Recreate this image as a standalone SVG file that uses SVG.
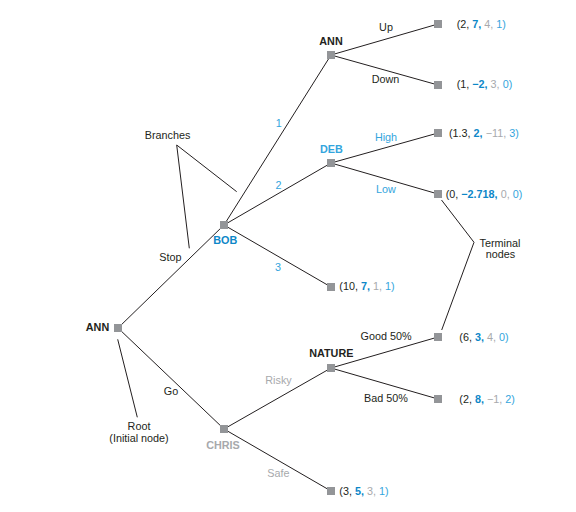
<svg xmlns="http://www.w3.org/2000/svg" width="576" height="512" viewBox="0 0 576 512">
<style>
text{font-family:"Liberation Sans",Arial,sans-serif;font-size:10.8px;fill:#231f20}
.c{text-anchor:middle}
.b{font-weight:bold}
.blue{fill:#0d87c8}
.lb{fill:#33a5dd}
.gr{fill:#a7a9ac}
.edge{stroke:#231f20;stroke-width:1;fill:none}
.node rect{fill:#939598}
</style>
<defs>
<rect id="sq" x="-4" y="-4" width="8" height="8"/>
</defs>
<rect width="576" height="512" fill="#fff"/>
<g id="connectors">
<line class="edge" x1="118" y1="328" x2="224" y2="225"/>
<line class="edge" x1="118" y1="328" x2="224" y2="429"/>
<line class="edge" x1="224" y1="225" x2="331" y2="55"/>
<line class="edge" x1="224" y1="225" x2="331" y2="163"/>
<line class="edge" x1="224" y1="225" x2="331" y2="287"/>
<line class="edge" x1="331" y1="55" x2="438" y2="24"/>
<line class="edge" x1="331" y1="55" x2="438" y2="85"/>
<line class="edge" x1="331" y1="163" x2="438" y2="133"/>
<line class="edge" x1="331" y1="163" x2="438" y2="194"/>
<line class="edge" x1="224" y1="429" x2="331" y2="368"/>
<line class="edge" x1="224" y1="429" x2="331" y2="491"/>
<line class="edge" x1="331" y1="368" x2="438" y2="337"/>
<line class="edge" x1="331" y1="368" x2="438" y2="399"/>
<polyline class="edge" points="189.3,248.3 176.7,145 236.7,191.7"/>
<line class="edge" x1="117.7" y1="339.3" x2="137.3" y2="417.3"/>
<polyline class="edge" points="441.5,200 474,242.3 441.7,330"/>
</g>
<g id="ann-root" class="node"><use href="#sq" x="118" y="328" fill="#939598"/><text class="c b" x="97.5" y="331">ANN</text></g>
<g id="bob" class="node"><use href="#sq" x="224" y="225" fill="#939598"/><text class="c b blue" x="225.3" y="244.3">BOB</text></g>
<g id="chris" class="node"><use href="#sq" x="224" y="429" fill="#939598"/><text class="c b gr" x="223" y="449.3">CHRIS</text></g>
<g id="ann-top" class="node"><use href="#sq" x="331" y="55" fill="#939598"/><text class="c b" x="331" y="45">ANN</text></g>
<g id="deb" class="node"><use href="#sq" x="331" y="163" fill="#939598"/><text class="c b lb" x="331.3" y="153">DEB</text></g>
<g id="nature" class="node"><use href="#sq" x="331" y="368" fill="#939598"/><text class="c b" x="331.3" y="356.7">NATURE</text></g>
<g id="t1" class="node"><use href="#sq" x="438" y="24" fill="#939598"/><text x="456.7" y="28">(2, <tspan class="b blue">7,</tspan> <tspan class="gr">4,</tspan> <tspan class="lb">1)</tspan></text></g>
<g id="t2" class="node"><use href="#sq" x="438" y="85" fill="#939598"/><text x="456.7" y="88">(1, <tspan class="b blue">−2,</tspan> <tspan class="gr">3,</tspan> <tspan class="lb">0)</tspan></text></g>
<g id="t3" class="node"><use href="#sq" x="438" y="133" fill="#939598"/><text x="449" y="136.7">(1.3, <tspan class="b blue">2,</tspan> <tspan class="gr">−11,</tspan> <tspan class="lb">3)</tspan></text></g>
<g id="t4" class="node"><use href="#sq" x="438" y="194" fill="#939598"/><text x="445.7" y="197.5">(0, <tspan class="b blue">−2.718,</tspan> <tspan class="gr">0,</tspan> <tspan class="lb">0)</tspan></text></g>
<g id="t5" class="node"><use href="#sq" x="331" y="287" fill="#939598"/><text x="339.3" y="290">(10, <tspan class="b blue">7,</tspan> <tspan class="gr">1,</tspan> <tspan class="lb">1)</tspan></text></g>
<g id="t6" class="node"><use href="#sq" x="438" y="337" fill="#939598"/><text x="459.3" y="340.7">(6, <tspan class="b blue">3,</tspan> <tspan class="gr">4,</tspan> <tspan class="lb">0)</tspan></text></g>
<g id="t7" class="node"><use href="#sq" x="438" y="399" fill="#939598"/><text x="459.3" y="402.7">(2, <tspan class="b blue">8,</tspan> <tspan class="gr">−1,</tspan> <tspan class="lb">2)</tspan></text></g>
<g id="t8" class="node"><use href="#sq" x="331" y="491" fill="#939598"/><text x="339.3" y="494.5">(3, <tspan class="b blue">5,</tspan> <tspan class="gr">3,</tspan> <tspan class="lb">1)</tspan></text></g>
<g id="labels">
<text class="c" x="386" y="31">Up</text>
<text class="c" x="385.5" y="83">Down</text>
<text class="c lb" x="386" y="140.7">High</text>
<text class="c lb" x="386" y="192.7">Low</text>
<text class="c lb" x="278.7" y="127">1</text>
<text class="c lb" x="278.5" y="189">2</text>
<text class="c lb" x="278" y="271">3</text>
<text class="c" x="170.3" y="261">Stop</text>
<text class="c" x="171" y="395">Go</text>
<text class="c gr" x="278.5" y="384.3">Risky</text>
<text class="c gr" x="278.3" y="476.7">Safe</text>
<text class="c" x="386" y="340">Good 50%</text>
<text class="c" x="386" y="402.3">Bad 50%</text>
<text class="c" x="167.5" y="139">Branches</text>
<text class="c" x="139" y="430">Root</text>
<text class="c" x="139" y="441.7">(Initial node)</text>
<text class="c" x="500" y="246.7">Terminal</text>
<text class="c" x="500.5" y="258.3">nodes</text>
</g>
</svg>
